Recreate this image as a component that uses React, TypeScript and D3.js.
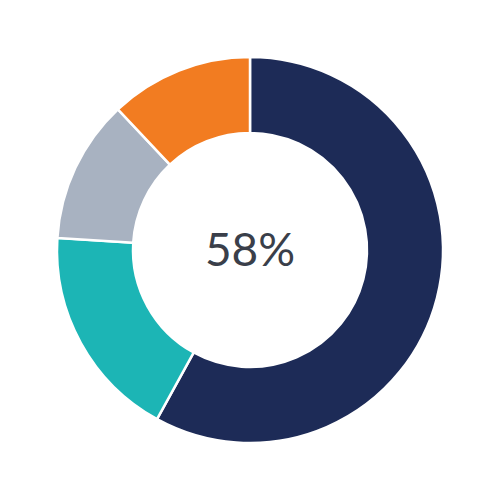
import React from 'react';
import * as d3 from 'd3';

const labels = ['Primary', 'Teal', 'Gray', 'Orange'];
const values = [58, 18, 12, 12];
const colors = ['#1d2b57', '#1cb5b5', '#a8b2c1', '#f27c21'];
const centerLabel = '58%';

const App: React.FC = () => {
  const width = 500;
  const height = 500;
  const cx = 250;
  const cy = 250;
  const outerRadius = 193;
  const innerRadius = 117;

  const pie = d3
    .pie<number>()
    .sort(null)
    .value((d) => d);
  const arcs = pie(values);
  const arc = d3
    .arc<d3.PieArcDatum<number>>()
    .innerRadius(innerRadius)
    .outerRadius(outerRadius);

  return (
    <svg
      width={width}
      height={height}
      style={{ position: 'absolute', left: 0, top: 0, background: '#fff' }}
    >
      <g transform={`translate(${cx},${cy})`}>
        {arcs.map((a, i) => (
          <path
            key={labels[i]}
            d={arc(a) as string}
            fill={colors[i]}
            stroke="#fff"
            strokeWidth={2.5}
          />
        ))}
        <text
          x={0}
          y={0}
          dy="0.35em"
          textAnchor="middle"
          fontFamily="Lato, 'Open Sans', sans-serif"
          fontSize={46}
          fill="#3a3f4a"
        >
          {centerLabel}
        </text>
      </g>
    </svg>
  );
};

export default App;
